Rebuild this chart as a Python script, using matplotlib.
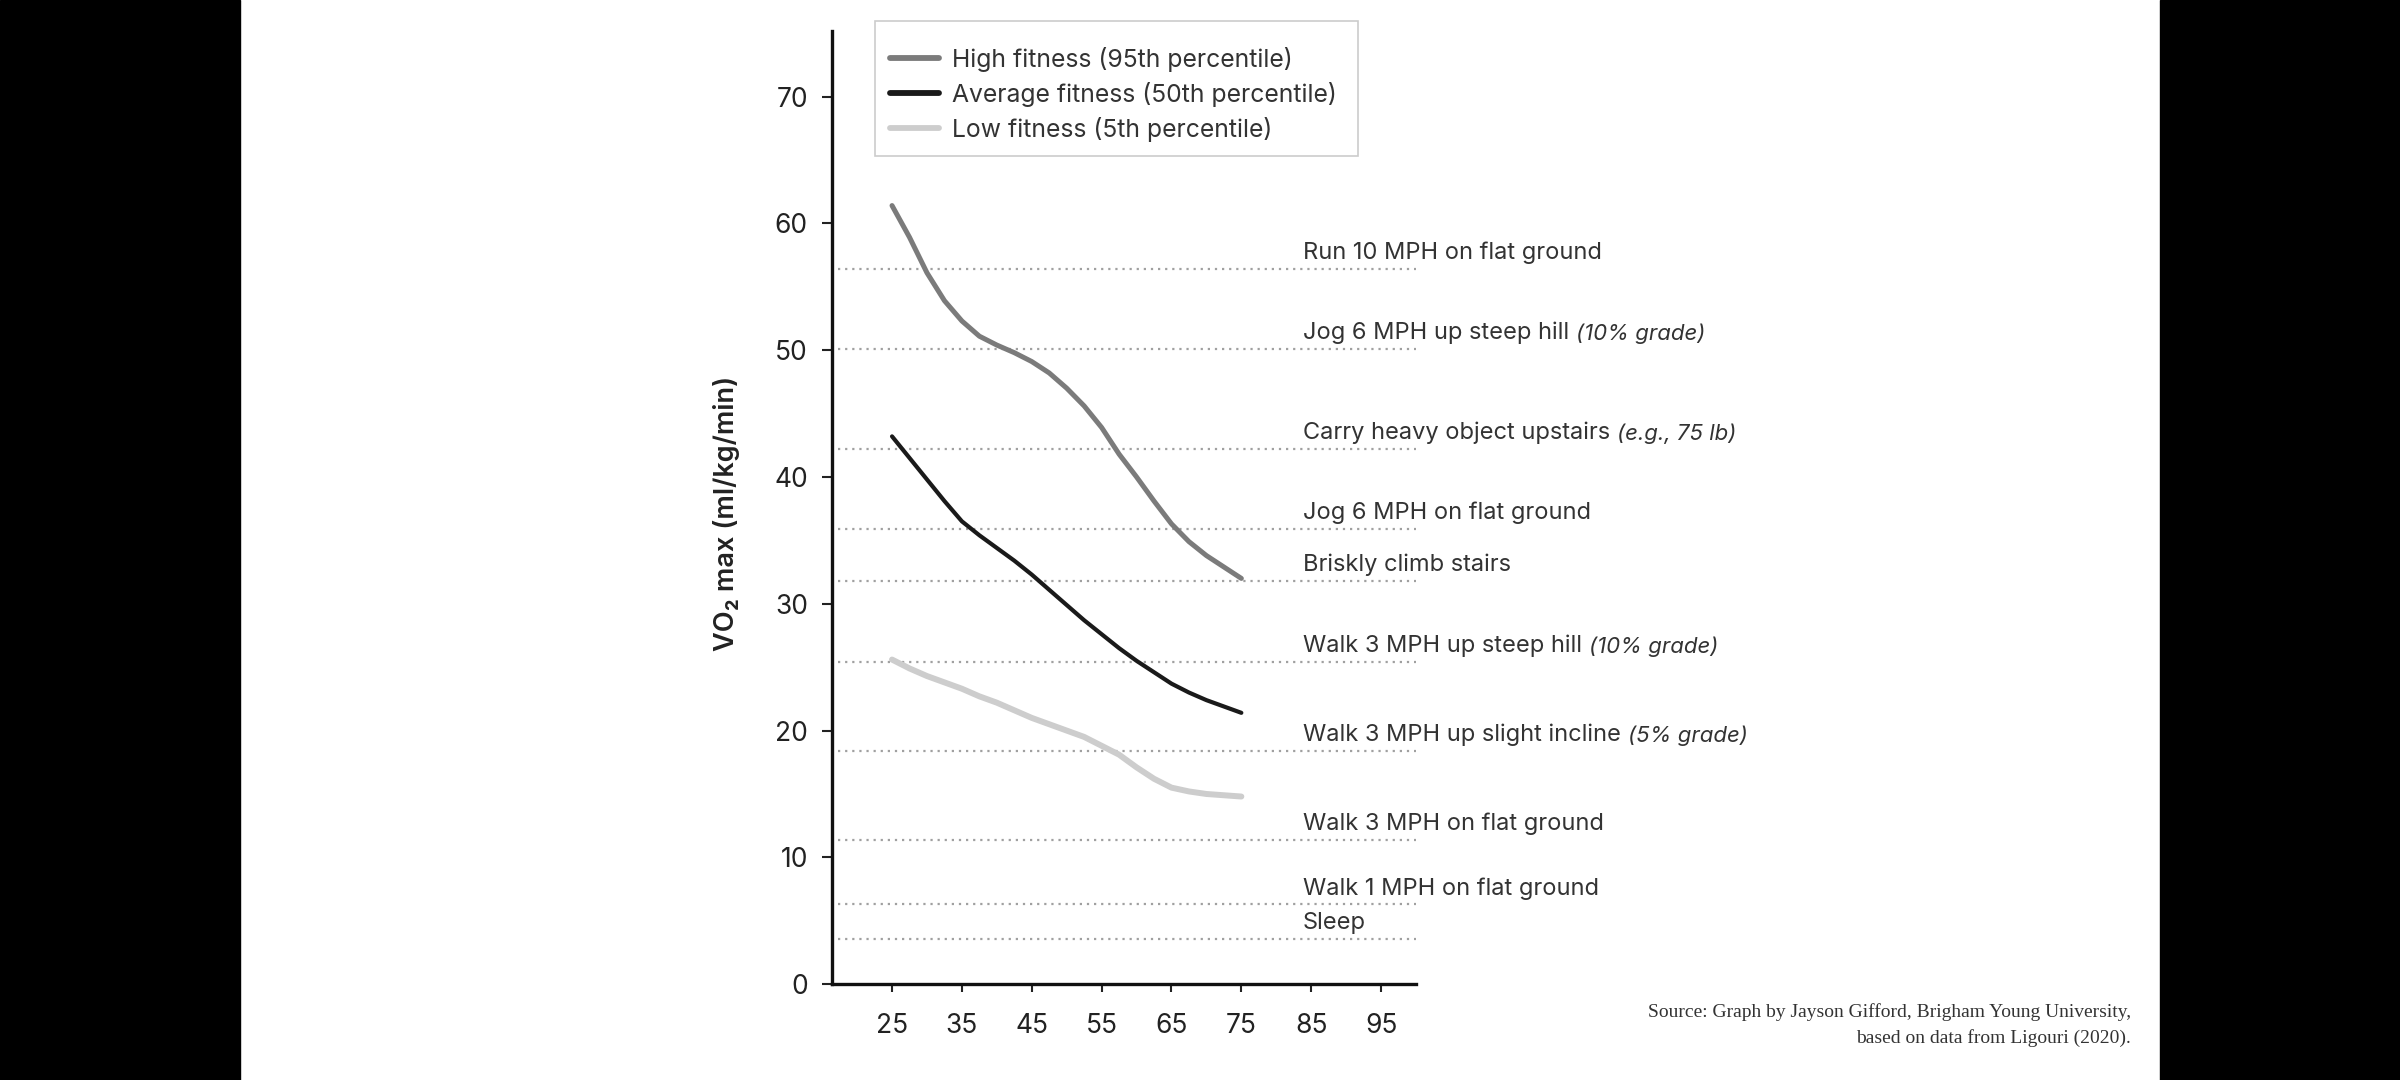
import matplotlib.pyplot as plt
from matplotlib.patches import Rectangle

plt.rcParams['font.family'] = ['Inter', 'DejaVu Sans']

# VO2 max by age, every 2.5 years
ages = [25, 27.5, 30, 32.5, 35, 37.5, 40, 42.5, 45, 47.5, 50,
        52.5, 55, 57.5, 60, 62.5, 65, 67.5, 70, 72.5, 75]
high_fit = [61.4, 58.9, 56.1, 53.9, 52.3, 51.1, 50.4, 49.8, 49.1, 48.2, 47.0,
            45.6, 43.9, 41.8, 40.0, 38.1, 36.3, 34.9, 33.8, 32.9, 32.0]
avg_fit = [43.2, 41.5, 39.8, 38.1, 36.5, 35.4, 34.4, 33.4, 32.3, 31.1, 29.9,
           28.7, 27.6, 26.5, 25.5, 24.6, 23.7, 23.0, 22.4, 21.9, 21.4]
low_fit = [25.6, 24.9, 24.3, 23.8, 23.3, 22.7, 22.2, 21.6, 21.0, 20.5, 20.0,
           19.5, 18.8, 18.1, 17.1, 16.2, 15.5, 15.2, 15.0, 14.9, 14.8]

series_names = ["High fitness (95th percentile)",
                "Average fitness (50th percentile)",
                "Low fitness (5th percentile)"]

# activities and the VO2 they need
activities = ["Run 10 MPH on flat ground",
              "Jog 6 MPH up steep hill",
              "Carry heavy object upstairs",
              "Jog 6 MPH on flat ground",
              "Briskly climb stairs",
              "Walk 3 MPH up steep hill",
              "Walk 3 MPH up slight incline",
              "Walk 3 MPH on flat ground",
              "Walk 1 MPH on flat ground",
              "Sleep"]
activity_notes = ["", "(10% grade)", "(e.g., 75 lb)", "", "", "(10% grade)",
                  "(5% grade)", "", "", ""]
activity_vo2 = [56.4, 50.1, 42.2, 35.9, 31.8, 25.4, 18.4, 11.4, 6.3, 3.6]

x_ticks = [25, 35, 45, 55, 65, 75, 85, 95]
y_ticks = [0, 10, 20, 30, 40, 50, 60, 70]

fig = plt.figure(figsize=(24, 10.8), dpi=100)
fig.patch.set_facecolor('white')
fig.add_artist(Rectangle((0, 0), 0.1, 1, transform=fig.transFigure, color='black', zorder=0))
fig.add_artist(Rectangle((0.9, 0), 0.1, 1, transform=fig.transFigure, color='black', zorder=0))

ax = fig.add_axes([0.3465, 0.0887, 0.2435, 0.883])

for y in activity_vo2:
    ax.plot([17.2, 100], [y, y], color='#a0a0a0', lw=1.6,
            linestyle=(0, (1, 2.2)), zorder=1)

ax.plot(ages, high_fit, color='#7b7b7b', lw=3.6, solid_capstyle='round',
        solid_joinstyle='round', label=series_names[0], zorder=3)
ax.plot(ages, avg_fit, color='#1a1a1a', lw=3.0, solid_capstyle='round',
        solid_joinstyle='round', label=series_names[1], zorder=3)
ax.plot(ages, low_fit, color='#cdcdcd', lw=4.3, solid_capstyle='round',
        solid_joinstyle='round', label=series_names[2], zorder=3)

for name, note, y in zip(activities, activity_notes, activity_vo2):
    t = ax.annotate(name, xy=(83.8, y), xytext=(0, 7), textcoords='offset points',
                    fontsize=17, color='#333333', va='baseline', ha='left',
                    annotation_clip=False)
    if note:
        ax.annotate(note, xy=(1, 0), xycoords=t, xytext=(5, 0),
                    textcoords='offset points', fontsize=16, style='italic',
                    color='#333333', va='bottom', ha='left')

ax.set_xlim(16.35, 100)
ax.set_ylim(0, 75.2)
ax.set_xticks(x_ticks)
ax.set_yticks(y_ticks)
ax.tick_params(axis='x', length=6, width=1.5, pad=15, labelsize=19, colors='#222222')
ax.tick_params(axis='y', length=7, width=1.5, pad=10, labelsize=19, colors='#222222')
for s in ['top', 'right']:
    ax.spines[s].set_visible(False)
for s in ['left', 'bottom']:
    ax.spines[s].set_linewidth(2.4)
    ax.spines[s].set_color('#111111')

fig.text(727 / 2400, 0.525, "VO₂ max (ml/kg/min)", rotation=90, ha='center',
         va='center', fontsize=19.5, fontweight='semibold', color='#222222')

# legend box drawn separately so its padding can follow the original
fig.add_artist(Rectangle((875 / 2400, 1 - 156 / 1080), 483 / 2400, 135 / 1080,
                         transform=fig.transFigure, facecolor='none',
                         edgecolor='#cccccc', lw=1.2, zorder=4))
leg = ax.legend(loc='upper left', bbox_to_anchor=(890 / 2400, 1 - 47 / 1080),
                bbox_transform=fig.transFigure, fontsize=17.8, frameon=False,
                handlelength=2.0, handletextpad=0.5, labelspacing=0.4,
                borderpad=0, borderaxespad=0)
for line in leg.get_lines():
    line.set_linewidth(4.2)
for txt in leg.get_texts():
    txt.set_color('#333333')

fig.text(0.888, 1 - 1012 / 1080, "Source: Graph by Jayson Gifford, Brigham Young University,",
         ha='right', va='center', fontsize=14, family='Liberation Serif', color='#333333')
fig.text(0.888, 1 - 1038 / 1080, "based on data from Ligouri (2020).",
         ha='right', va='center', fontsize=14, family='Liberation Serif', color='#333333')

fig.savefig('out.png', dpi=100, facecolor='white')
